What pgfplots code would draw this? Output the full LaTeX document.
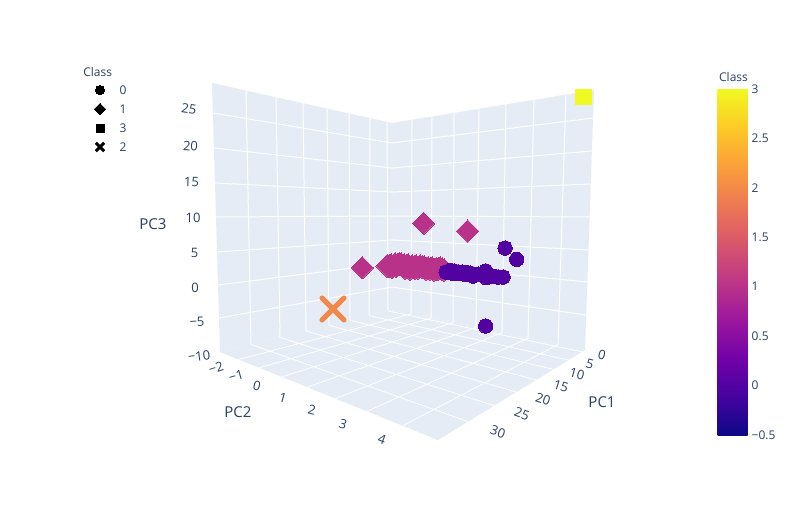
\documentclass[border=0pt]{standalone}
\usepackage{pgfplots}
\pgfplotsset{compat=1.18}
\usepackage{fontspec}
\setmainfont{Open Sans}
\definecolor{wallc}{RGB}{229,236,246}
\definecolor{txt}{RGB}{42,63,95}
\newcommand{\tk}{\fontsize{12}{14}\selectfont\color{txt}}
\newcommand{\tq}{\fontsize{13}{15}\selectfont\color{txt}}
\newcommand{\ttl}{\fontsize{15}{17}\selectfont\color{txt}}
\begin{document}
\begin{tikzpicture}[every node/.append style={inner sep=0pt}]
\begin{axis}[
  scale only axis, width=800pt, height=525pt,
  xmin=0, xmax=800, ymin=0, ymax=525, y dir=reverse,
  hide axis, clip=false, unbounded coords=jump,
  scatter/use mapped color={draw=mapped color, fill=mapped color},
  colormap={plasma}{rgb255=(13,8,135) rgb255=(70,3,159) rgb255=(114,1,168) rgb255=(156,23,158) rgb255=(189,55,134) rgb255=(216,87,107) rgb255=(237,121,83) rgb255=(251,159,58) rgb255=(253,202,38) rgb255=(240,249,33)},
  point meta min=-0.5, point meta max=3,
  colorbar,
  colorbar/width=30pt,
  colorbar style={
    at={(parent axis.north west)}, anchor=north west,
    xshift=709pt, yshift=-89pt,
    scale only axis, height=346pt,
    axis line style={draw=none},
    ytick={-0.5,0,0.5,1,1.5,2,2.5,3},
    yticklabels={−0.5,0,0.5,1,1.5,2,2.5,3},
    major tick length=0pt,
    yticklabel style={font=\tk, anchor=west, inner sep=0pt, xshift=4pt},
  },
]
% white page
\addplot[fill=white, draw=none] coordinates {(0,0)(800,0)(800,525)(0,525)} -- cycle;
% walls and floor
\addplot[fill=wallc, draw=none] coordinates {(212,83)(392,123)(392,310)(220,352)} -- cycle;
\addplot[fill=wallc, draw=none] coordinates {(392,123)(594,90)(585,350)(392,310)} -- cycle;
\addplot[fill=wallc, draw=none] coordinates {(220,352)(392,310)(585,350)(438,440)} -- cycle;
% grid, walls
\addplot[white, line width=1pt] coordinates {
 (246,90.6)(251,344.4)(nan,nan)(276,97.2)(280,337.4)(nan,nan)(303,103.2)(306,331)(nan,nan)
 (327,108.6)(329,325.4)(nan,nan)(349,113.4)(350,320.3)(nan,nan)(370,118.1)(369,315.6)(nan,nan)
 (387,121.9)(388,311)(nan,nan)
 (212.9,113)(392,143)(593,118)(nan,nan)
 (213.9,148)(392,168)(591.9,151)(nan,nan)
 (215,183)(392,192)(590.7,184)(nan,nan)
 (216,217)(392,216)(589.6,217)(nan,nan)
 (217,252)(392,240)(588.5,250)(nan,nan)
 (218,285)(392,263)(587.4,282)(nan,nan)
 (219,318)(392,287)(586.2,315)(nan,nan)
 (412,119.7)(411,313.9)(nan,nan)(432,116.5)(431,318.1)(nan,nan)(454,112.9)(453,322.6)(nan,nan)
 (479,108.8)(476,327.4)(nan,nan)(506,104.4)(502,332.8)(nan,nan)(534,99.9)(528,338.2)(nan,nan)
 (566,94.6)(558,344.4)
};
% grid, floor
\addplot[white, line width=0.8pt] coordinates {
 (251,344.4)(468,421.6)(nan,nan)(280,337.4)(494.1,405.6)(nan,nan)(306,331)(516.5,392)(nan,nan)
 (329,325.4)(536,379.9)(nan,nan)(350,320.3)(553.3,369.4)(nan,nan)(369,315.6)(568.5,360.1)(nan,nan)
 (388,311)(582.1,351.8)(nan,nan)
 (411,313.9)(238.7,359.5)(nan,nan)(431,318.1)(259.2,367.8)(nan,nan)(453,322.6)(281.9,376.9)(nan,nan)
 (476,327.4)(307,387.2)(nan,nan)(502,332.8)(335.4,398.6)(nan,nan)(528,338.2)(367,411.4)(nan,nan)
 (558,344.4)(402.8,425.8)
};
% class 1: diamonds
\addplot[scatter, only marks, scatter src=explicit, mark=square*, mark size=7.8pt,
  mark options={rotate=45, line width=0pt}] coordinates {
 (362.3,267.7)[1] (423.7,223.3)[1] (467.7,231)[1]
 (387,266)[1] (391,265)[1] (395,264)[1] (399,264)[1] (401,264)[1] (404,265)[1] (408,265)[1]
 (412,266)[1] (416,266)[1] (420,266)[1] (424,267)[1] (428,268)[1] (432,268)[1] (436,269)[1]
 (440,268)[1] (444,270)[1] (405,268)[1] (410,269)[1] (415,268)[1] (396,266)[1] (392,267)[1]
 (418,268)[1] (426,269)[1] (434,270)[1]
 (389,266)[1] (393,266)[1] (397,265)[1] (403,266)[1] (406,266)[1] (414,267)[1] (422,267)[1] (430,269)[1] (438,269)[1] (442,269)[1]
};
% class 0: circles
\addplot[scatter, only marks, scatter src=explicit, mark=*, mark size=7.2pt,
  mark options={line width=0pt}] coordinates {
 (505,248)[0] (516.7,259.3)[0] (485.7,326)[0]
 (446,272)[0] (450,270.5)[0] (454,271)[0] (458,272)[0] (462,272)[0] (466,272.5)[0] (470,273)[0]
 (473,276)[0] (478,274)[0] (482,274)[0] (485.7,271)[0] (486,277.5)[0] (490,276)[0] (494,276.5)[0]
 (498,277)[0] (503,277)[0] (448,272.5)[0] (452,273)[0] (456,273)[0] (460,273.5)[0] (464,274)[0]
 (468,274)[0]
};
% class 3: square
\addplot[scatter, only marks, scatter src=explicit, mark=square*, mark size=7.7pt,
  mark options={line width=0pt}] coordinates {(583.3,97)[3]};
% class 2: cross
\addplot[scatter, only marks, scatter src=explicit, mark=x, mark size=15.6pt,
  mark options={line width=5pt, line cap=round}] coordinates {(333,309)[2]};
% legend
\addplot[only marks, black, mark=*, mark size=4.6pt, mark options={line width=0pt}] coordinates {(100,90)};
\addplot[only marks, black, mark=square*, mark size=3.9pt, mark options={rotate=45, line width=0pt}] coordinates {(100,109)};
\addplot[only marks, black, mark=square*, mark size=4pt, mark options={line width=0pt}] coordinates {(100,128)};
\addplot[only marks, black, mark=x, mark size=6pt, mark options={line width=3pt}] coordinates {(100,147)};
\node[font=\tk] at (axis cs:97.7,71.7) {Class};
\node[font=\tk] at (axis cs:123,90) {0};
\node[font=\tk] at (axis cs:123,109) {1};
\node[font=\tk] at (axis cs:123,128) {3};
\node[font=\tk] at (axis cs:123,147) {2};
\node[font=\tk] at (axis cs:733.5,77) {Class};
% PC3
\node[font=\ttl] at (axis cs:153,224) {PC3};
\node[font=\tq, rotate=-8] at (axis cs:189,109) {25};
\node[font=\tq, rotate=-4] at (axis cs:190.5,146) {20};
\node[font=\tq, rotate=-2] at (axis cs:191.5,182) {15};
\node[font=\tq] at (axis cs:193,218) {10};
\node[font=\tq] at (axis cs:194.5,253) {5};
\node[font=\tq] at (axis cs:195,288) {0};
\node[font=\tq, rotate=3] at (axis cs:197,322) {−5};
\node[font=\tq, rotate=7] at (axis cs:199,356) {−10};
% PC2
\node[font=\ttl] at (axis cs:238,412) {PC2};
\node[font=\tq, rotate=18] at (axis cs:216,368) {−2};
\node[font=\tq, rotate=16] at (axis cs:236,376) {−1};
\node[font=\tq, rotate=-15] at (axis cs:257,386) {0};
\node[font=\tq, rotate=-15] at (axis cs:283,398) {1};
\node[font=\tq, rotate=-15] at (axis cs:312,410) {2};
\node[font=\tq, rotate=-18] at (axis cs:343,424) {3};
\node[font=\tq, rotate=-20] at (axis cs:382,439) {4};
% PC1
\node[font=\ttl] at (axis cs:602,402) {PC1};
\node[font=\tq, rotate=-15] at (axis cs:602,355) {0};
\node[font=\tq, rotate=-15] at (axis cs:590,364) {5};
\node[font=\tq, rotate=-15] at (axis cs:577,374) {10};
\node[font=\tq, rotate=-17] at (axis cs:561,386) {15};
\node[font=\tq, rotate=-18] at (axis cs:543,399) {20};
\node[font=\tq, rotate=-20] at (axis cs:522,414) {25};
\node[font=\tq, rotate=-20] at (axis cs:498,432) {30};
\end{axis}
\end{tikzpicture}
\end{document}
